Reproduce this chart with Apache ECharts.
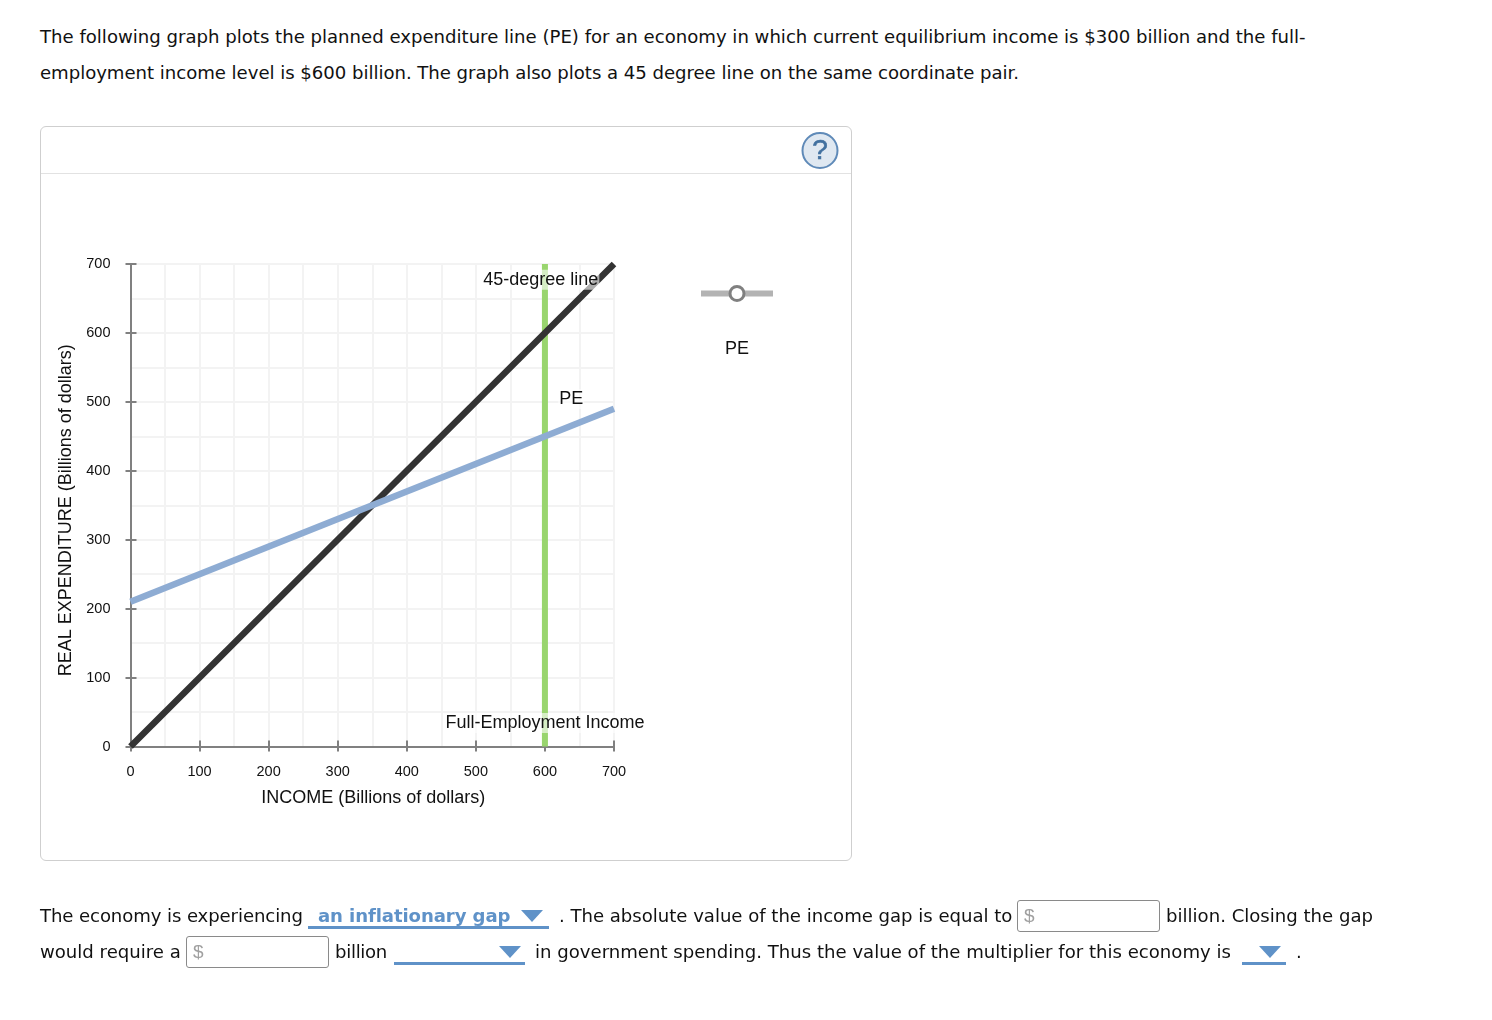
<!DOCTYPE html>
<html>
<head>
<meta charset="utf-8">
<script src="https://cdn.jsdelivr.net/npm/echarts@6/dist/echarts.min.js"></script>
<style>
html, body { margin: 0; padding: 0; background: #fff; }
body { position: relative; width: 1492px; height: 1020px; overflow: hidden; font-family: "DejaVu Sans", sans-serif; font-size: 18.1px; color: #111; }
.line { position: absolute; white-space: nowrap; line-height: 24px; }
.panel { position: absolute; left: 40px; top: 126px; width: 810px; height: 733px; border: 1px solid #cfcfcf; border-radius: 6px; }
.panel .head { position: absolute; left: 0; right: 0; top: 46px; border-top: 1px solid #e2e2e2; }
#chart { position: absolute; left: 0; top: 0; width: 1492px; height: 1020px; }
.box { position: absolute; height: 30px; border: 1px solid #8a8a8a; border-radius: 3px; color: #a0a0a0; line-height: 29px; padding-left: 6px; box-sizing: content-box; font-family: "Liberation Sans", sans-serif; font-size: 19px; }
.drop { position: absolute; height: 3px; background: #5f92c8; }
.tri { position: absolute; width: 0; height: 0; border-left: 11px solid transparent; border-right: 11px solid transparent; border-top: 12px solid #5f92c8; }
.sel { position: absolute; white-space: nowrap; font-weight: bold; color: #5f92c8; line-height: 24px; }
</style>
</head>
<body>
<div class="line" style="left:40px;top:25px">The following graph plots the planned expenditure line (PE) for an economy in which current equilibrium income is $300 billion and the full-</div>
<div class="line" style="left:40px;top:61px;letter-spacing:-0.03px">employment income level is $600 billion. The graph also plots a 45 degree line on the same coordinate pair.</div>
<div class="panel"><div class="head"></div></div>
<div id="chart"></div>

<div class="line" style="left:40px;top:904px;letter-spacing:-0.1px">The economy is experiencing</div>
<div class="sel" style="left:318px;top:904px;letter-spacing:-0.1px">an inflationary gap</div>
<div class="drop" style="left:308px;top:926px;width:241px"></div>
<div class="tri" style="left:521px;top:910px"></div>
<div class="line" style="left:559px;top:904px;letter-spacing:-0.02px">. The absolute value of the income gap is equal to</div>
<div class="box" style="left:1017px;top:900px;width:135px">$</div>
<div class="line" style="left:1166px;top:904px">billion. Closing the gap</div>

<div class="line" style="left:40px;top:940px">would require a</div>
<div class="box" style="left:186px;top:936px;width:135px">$</div>
<div class="line" style="left:335px;top:940px;letter-spacing:-0.3px">billion</div>
<div class="drop" style="left:394px;top:962px;width:131px"></div>
<div class="tri" style="left:499px;top:946px"></div>
<div class="line" style="left:535px;top:940px">in government spending. Thus the value of the multiplier for this economy is</div>
<div class="drop" style="left:1242px;top:962px;width:44px"></div>
<div class="tri" style="left:1259px;top:946px"></div>
<div class="line" style="left:1296px;top:940px">.</div>

<script>
const ticks = [0, 100, 200, 300, 400, 500, 600, 700];
const innerTicks = [100, 200, 300, 400, 500, 600, 700];
const lineFortyFive = [[0, 0], [700, 700]];
const linePE = [[0, 210], [700, 490]];
const lineFullEmployment = [[600, 0], [600, 700]];
const curveLabels = [
    ['45-degree line', 594, 677],
    ['PE', 638, 504],
    ['Full-Employment Income', 600, 34]
];

const FONT = '"Liberation Sans", Arial, sans-serif';
const AXIS_COLOR = '#808080';
const GRID_COLOR = '#f3f3f3';
const TEXT_COLOR = '#111';

function baseAxis() {
    return {
        type: 'value', min: 0, max: 700, interval: 100,
        axisLine: { show: true, onZero: false, lineStyle: { color: AXIS_COLOR, width: 2 } },
        axisTick: { show: true, length: 5, lineStyle: { color: AXIS_COLOR, width: 2 } },
        axisLabel: { color: TEXT_COLOR, fontFamily: FONT, fontSize: 14.5 },
        minorTick: { show: false, splitNumber: 2 },
        minorSplitLine: { show: true, lineStyle: { color: GRID_COLOR, width: 2 } },
        splitLine: { show: true, lineStyle: { color: GRID_COLOR, width: 2 } },
        nameLocation: 'middle',
        nameTextStyle: { color: TEXT_COLOR, fontFamily: FONT, fontSize: 18 }
    };
}

// second pair of axes only for the inner half of the ticks, they cross the axis line
function tickAxis(position) {
    return {
        type: 'value', min: 0, max: 700, interval: 100, position: position,
        axisLine: { show: false },
        axisLabel: { show: false },
        splitLine: { show: false },
        axisTick: { show: true, inside: true, length: 6, customValues: innerTicks, lineStyle: { color: AXIS_COLOR, width: 2 } }
    };
}

const xMain = baseAxis();
xMain.position = 'bottom';
xMain.name = 'INCOME (Billions of dollars)';
xMain.nameGap = 43;
xMain.axisLabel.margin = 18;
xMain.nameTextStyle.padding = [0, 0, 0, 2];

const yMain = baseAxis();
yMain.position = 'left';
yMain.name = 'REAL EXPENDITURE (Billions of dollars)';
yMain.nameGap = 55;
yMain.axisLabel.margin = 20;
yMain.axisLabel.padding = [2, 0, 0, 0];
yMain.nameTextStyle.padding = [0, 10, 0, 0];

const chart = echarts.init(document.getElementById('chart'), null, { renderer: 'canvas' });
chart.setOption({
    animation: false,
    backgroundColor: 'transparent',
    grid: { left: 130.5, top: 264, width: 483.5, height: 482.5, containLabel: false },
    xAxis: [xMain, tickAxis('bottom')],
    yAxis: [yMain, tickAxis('left')],
    series: [
        {
            type: 'line', data: lineFullEmployment, showSymbol: false, silent: true, clip: false,
            lineStyle: { color: '#99d56e', width: 6, cap: 'butt' }
        },
        {
            type: 'line', data: lineFortyFive, showSymbol: false, silent: true, clip: false,
            lineStyle: { color: '#333333', width: 6.5, cap: 'butt' }
        },
        {
            type: 'line', data: linePE, showSymbol: false, silent: true, clip: false,
            lineStyle: { color: '#8eacd3', width: 6.5, cap: 'butt' }
        },
        {
            type: 'scatter', symbolSize: 0, silent: true, clip: false, z: 5,
            itemStyle: { opacity: 1 },
            data: curveLabels.map(d => ({
                value: [d[1], d[2]],
                label: {
                    show: true, formatter: d[0], position: 'inside', color: TEXT_COLOR,
                    fontFamily: FONT, fontSize: 18,
                    backgroundColor: 'rgba(255,255,255,0.6)', padding: [1, 1]
                }
            }))
        }
    ],
    graphic: [
        // legend swatch on the right of the plot
        { type: 'line', shape: { x1: 701, y1: 293.5, x2: 773, y2: 293.5 }, style: { stroke: '#b3b3b3', lineWidth: 6 } },
        { type: 'circle', shape: { cx: 737, cy: 293.5, r: 7 }, style: { fill: '#fff', stroke: '#808080', lineWidth: 3 } },
        { type: 'text', x: 737, y: 349, style: { text: 'PE', fill: TEXT_COLOR, font: '18px ' + FONT, textAlign: 'center', textVerticalAlign: 'middle' } },
        // help button
        { type: 'circle', shape: { cx: 820, cy: 150.5, r: 17.5 }, style: { fill: '#dfe8f1', stroke: '#5f8ab8', lineWidth: 2 } },
        { type: 'text', x: 820, y: 151, style: { text: '?', fill: '#41709f', stroke: '#41709f', lineWidth: 0.6, font: '28px ' + FONT, textAlign: 'center', textVerticalAlign: 'middle' } }
    ]
});
</script>
</body>
</html>
